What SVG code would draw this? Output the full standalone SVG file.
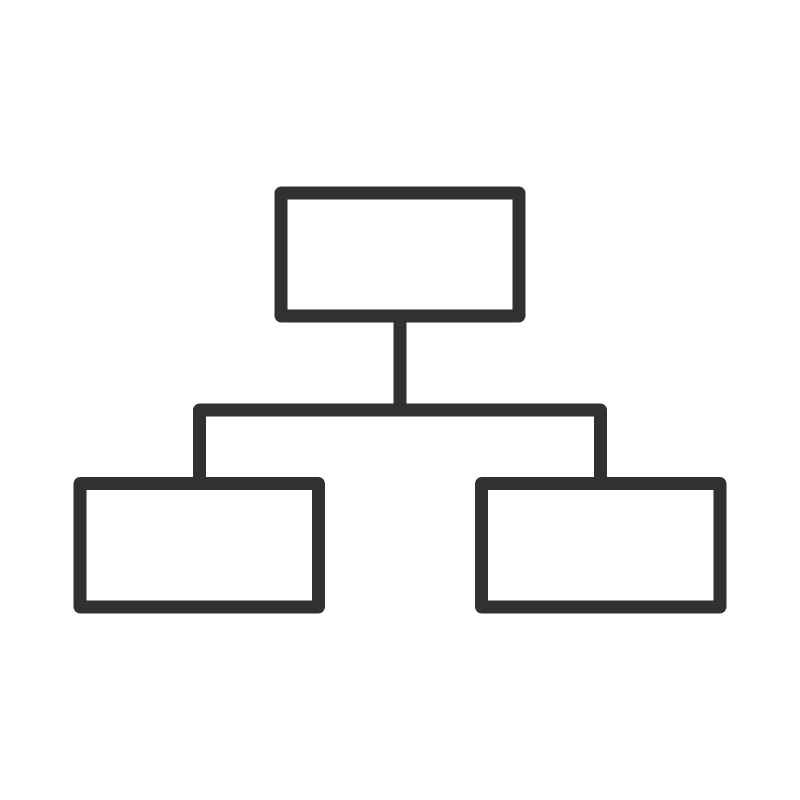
<svg xmlns="http://www.w3.org/2000/svg" width="800" height="800" viewBox="0 0 800 800">
  <style>
    .box { fill: #ffffff; stroke: #313131; stroke-width: 13; stroke-linejoin: round; }
    .conn { fill: none; stroke: #313131; stroke-width: 13; stroke-linejoin: round; stroke-linecap: butt; }
  </style>
  <rect width="800" height="800" fill="#ffffff"/>
  <g id="connectors">
    <path class="conn" d="M400,316 V410"/>
    <path class="conn" d="M199.5,483.5 V410 H600.5 V483.5"/>
  </g>
  <g id="node-top">
    <rect class="box" x="281" y="193" width="238" height="123"/>
  </g>
  <g id="node-left">
    <rect class="box" x="80" y="483.5" width="238.5" height="123.5"/>
  </g>
  <g id="node-right">
    <rect class="box" x="481.5" y="483.5" width="238.5" height="123.5"/>
  </g>
</svg>
